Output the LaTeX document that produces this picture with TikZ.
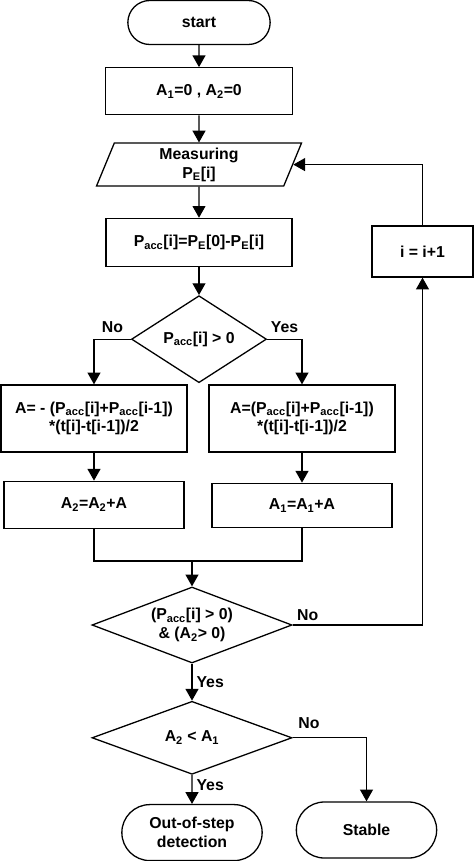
\documentclass[tikz,border=0pt]{standalone}
\usepackage{fontspec}
\setmainfont{Liberation Sans}
\usetikzlibrary{positioning,shapes.geometric,shapes.misc,arrows.meta}

\begin{document}
\begin{tikzpicture}[x=0.03cm, y=-0.03cm, line width=1.1pt,
    every node/.style={font=\fontsize{13.5pt}{16pt}\selectfont\bfseries, align=center},
    terminal/.style={rounded rectangle, draw=black, inner sep=2pt},
    process/.style={rectangle, draw=black, inner sep=2pt},
    io/.style={trapezium, trapezium left angle=65, trapezium right angle=115, trapezium stretches body, draw=black, inner sep=2pt},
    decision/.style={diamond, draw=black, inner sep=0pt, shape aspect=2.6},
    flow/.style={-{Triangle[length=10pt, width=11pt]}}]
    \useasboundingbox (0,0) rectangle (474,861);
    \node[terminal, minimum width=4.41cm, minimum height=1.32cm] (start) at (199,22.5) {start};
    \node[process, minimum width=5.61cm, minimum height=1.41cm, below=0.66cm of start] (init) {A\textsubscript{1}=0 , A\textsubscript{2}=0};
    \node[io, minimum width=6.15cm, minimum height=1.29cm, below=0.81cm of init] (measure) {Measuring\\P\textsubscript{E}[i]};
    \node[process, minimum width=5.58cm, minimum height=1.44cm, below=0.93cm of measure] (pacc) {P\textsubscript{acc}[i]=P\textsubscript{E}[0]-P\textsubscript{E}[i]};
    \node[decision, shape aspect=1.55, minimum width=4.05cm, minimum height=2.61cm, below=0.84cm of pacc] (check) {P\textsubscript{acc}[i] > 0};
    \node[process, minimum width=5.58cm, minimum height=2.01cm] (areaneg) at (94,418.5) {A= - (P\textsubscript{acc}[i]+P\textsubscript{acc}[i-1])\\{*}(t[i]-t[i-1])/2};
    \node[process, minimum width=5.58cm, minimum height=2.01cm] (areapos) at (302,418.5) {A=(P\textsubscript{acc}[i]+P\textsubscript{acc}[i-1])\\{*}(t[i]-t[i-1])/2};
    \node[process, minimum width=5.4cm, minimum height=1.41cm, below=0.84cm of areaneg] (sumneg) {A\textsubscript{2}=A\textsubscript{2}+A};
    \node[process, minimum width=5.4cm, minimum height=1.32cm, below=0.9cm of areapos] (sumpos) {A\textsubscript{1}=A\textsubscript{1}+A};
    \coordinate (merge) at (192,561);
    \node[decision, minimum width=6cm, minimum height=2.28cm] (cond) at (192,625) {(P\textsubscript{acc}[i] > 0)\\\& (A\textsubscript{2}> 0)};
    \node[decision, shape aspect=2.74, minimum width=6cm, minimum height=2.19cm, below=1.11cm of cond] (compare) {A\textsubscript{2} < A\textsubscript{1}};
    \node[terminal, minimum width=4.35cm, minimum height=1.68cm, below=0.87cm of compare] (oos) {Out-of-step\\detection};
    \node[terminal, minimum width=4.35cm, minimum height=1.68cm] (stable) at (366.5,830) {Stable};
    \node[process, minimum width=3.03cm, minimum height=1.53cm] (incr) at (422.5,251.5) {i = i+1};
    \draw[flow] (start) -- (init);
    \draw[flow] (init) -- (measure);
    \draw[flow] (measure) -- (pacc);
    \draw[flow] (pacc) -- (check);
    \draw[flow] (check.west) -| node[pos=0.25, above=2pt]{No} (areaneg.north);
    \draw[flow] (check.east) -| node[pos=0.25, above=2pt]{Yes} (areapos.north);
    \draw[flow] (areaneg) -- (sumneg);
    \draw[flow] (areapos) -- (sumpos);
    \draw (sumneg.south) |- (merge) -| (sumpos.south);
    \draw[flow] (merge) -- (cond);
    \draw[flow] (cond.east) -| node[pos=0, above right]{No} (incr.south);
    \draw[flow] (incr.north) |- (measure.east);
    \draw[flow] (cond) -- node[right]{Yes} (compare);
    \draw[flow] (compare.east) -| node[pos=0, above right=4pt and 1pt]{No} (stable);
    \draw[flow] (compare) -- node[pos=0.35, right]{Yes} (oos);
\end{tikzpicture}
\end{document}
